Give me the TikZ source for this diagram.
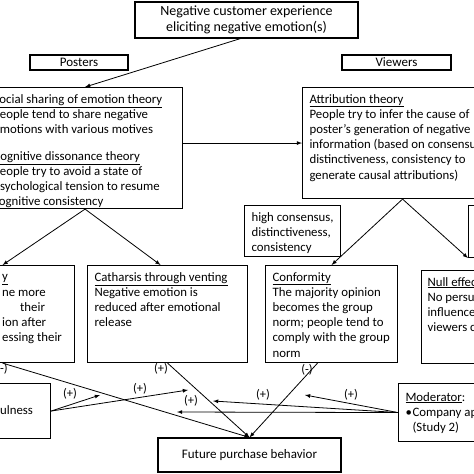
\documentclass[tikz,border=0pt]{standalone}
\usepackage{fontspec}
\setmainfont{Carlito}
\newcommand{\boxtext}[3]{\parbox[t][#2][t]{#1}{\begin{tabular}[t]{@{}l@{}}#3\end{tabular}}}

\begin{document}
\begin{tikzpicture}[x=1pt,y=-1pt,
        framebox/.style={rectangle, draw=black, line width=1.1pt, fill=white, anchor=north west, inner xsep=7pt, inner ysep=5pt, font=\fontsize{12.8}{15.2}\selectfont},
        titlebox/.style={rectangle, draw=black, line width=1.1pt, fill=white, align=center, inner sep=0pt, font=\fontsize{13}{15.2}\selectfont},
        sign/.style={inner sep=1pt, font=\fontsize{12.5}{14}\selectfont},
        link/.style={-latex, line width=0.8pt},
    ]
        \useasboundingbox (0,0) rectangle (474,474);
        \clip (0,0) rectangle (474,474);

        %Nodes
        \node[titlebox, minimum width=223pt, minimum height=36pt, font=\fontsize{14}{16}\selectfont] (neg) at (246.5,20) {Negative customer experience\\eliciting negative emotion(s)};
        \node[titlebox, minimum width=98pt, minimum height=15pt] (posters) at (79,62.5) {Posters};
        \node[titlebox, minimum width=109pt, minimum height=15pt] (viewers) at (396.5,62.5) {Viewers};

        \node[framebox, inner xsep=6pt] (social) at (-13,87) {\boxtext{183pt}{111pt}{\underline{Social sharing of emotion theory}\\People tend to share negative\\emotions with various motives\\[11.5pt]\underline{Cognitive dissonance theory}\\People try to avoid a state of\\psychological tension to resume\\cognitive consistency}};
        \node[framebox] (attr) at (302,87) {\boxtext{186pt}{101pt}{\underline{Attribution theory}\\People try to infer the cause of\\poster's generation of negative\\information (based on consensus,\\distinctiveness, consistency to\\generate causal attributions)}};
        \node[framebox] (hc) at (244,205) {\boxtext{82pt}{41pt}{high consensus,\\distinctiveness,\\consistency}};
        \node[framebox, minimum width=40pt, minimum height=52pt] (rbox) at (468,205) {};

        \node[framebox, minimum width=144pt, minimum height=97pt] (leftbot) at (-70,265) {};
        \node[anchor=north west, inner sep=0pt, font=\fontsize{12.8}{15.2}\selectfont] (leftbottext) at (2,270) {\begin{tabular}[t]{@{}l@{}}\underline{y}\\ne more\\\hspace*{18pt}their\\ion after\\essing their\end{tabular}};
        \node[framebox] (cath) at (87,265) {\boxtext{146pt}{87pt}{\underline{Catharsis through venting}\\Negative emotion is\\reduced after emotional\\release}};
        \node[framebox] (conf) at (265,265) {\boxtext{118pt}{87pt}{\underline{Conformity}\\The majority opinion\\becomes the group\\norm; people tend to\\comply with the group\\norm}};
        \node[framebox, inner xsep=6pt] (null) at (421,270) {\boxtext{108pt}{83pt}{\underline{Null effect}\\No persuasive\\influence\\viewers c}};

        \node[framebox, minimum width=110pt, minimum height=55pt] (ul) at (-60,383) {};
        \node[anchor=west, inner sep=0pt, font=\fontsize{12.8}{15.2}\selectfont] (ultext) at (0,410.5) {ulness};
        \node[framebox, inner xsep=7pt, inner ysep=7pt] (mod) at (398,383) {\boxtext{86pt}{44pt}{\underline{Moderator}:\\\makebox[7pt][l]{\textbullet}Company ap\\\hspace*{7pt}(Study 2)}};
        \node[titlebox, minimum width=183pt, minimum height=34pt] (fut) at (249.5,455) {Future purchase behavior};

        \coordinate (u1) at (100,395);
        \coordinate (u2) at (188,390);
        \coordinate (v1) at (305,395);
        \coordinate (v2) at (213,401);
        \coordinate (v3) at (177,412);

        %Lines
        \draw[link] ([xshift=-6pt]neg.south) -- (social.north);
        \draw[link] (attr.west -| social.east) -- (attr.west);
        \draw[link] (social.south) -- (leftbot.north);
        \draw[link] (social.south) -- ([xshift=-7pt]cath.north);
        \draw[link] (attr.south) -- (conf.north);
        \draw[link] (attr.south) -- (rbox.south west);

        \draw[link] (leftbot.south) -- (fut.north);
        \draw[link] (cath.south) -- (fut.north);
        \draw[link] ([xshift=-14pt]conf.south) -- (fut.north);

        \draw[link] (ul.east) -- (u1);
        \draw[link] (ul.east) -- (u2);
        \draw[link] (mod.west) -- (v1);
        \draw[link] (mod.west) -- (v2);
        \draw[link] (mod.west) -- (v3);

        % signs
        \node[sign] (s1) at (2,369) {(-)};
        \node[sign] (s2) at (161,369) {(+)};
        \node[sign] (s3) at (307,370) {(-)};
        \node[sign] (s4) at (70,394) {(+)};
        \node[sign] (s5) at (140,389) {(+)};
        \node[sign] (s6) at (191,401) {(+)};
        \node[sign] (s7) at (263,395) {(+)};
        \node[sign] (s8) at (351,395) {(+)};
    \end{tikzpicture}
\end{document}
